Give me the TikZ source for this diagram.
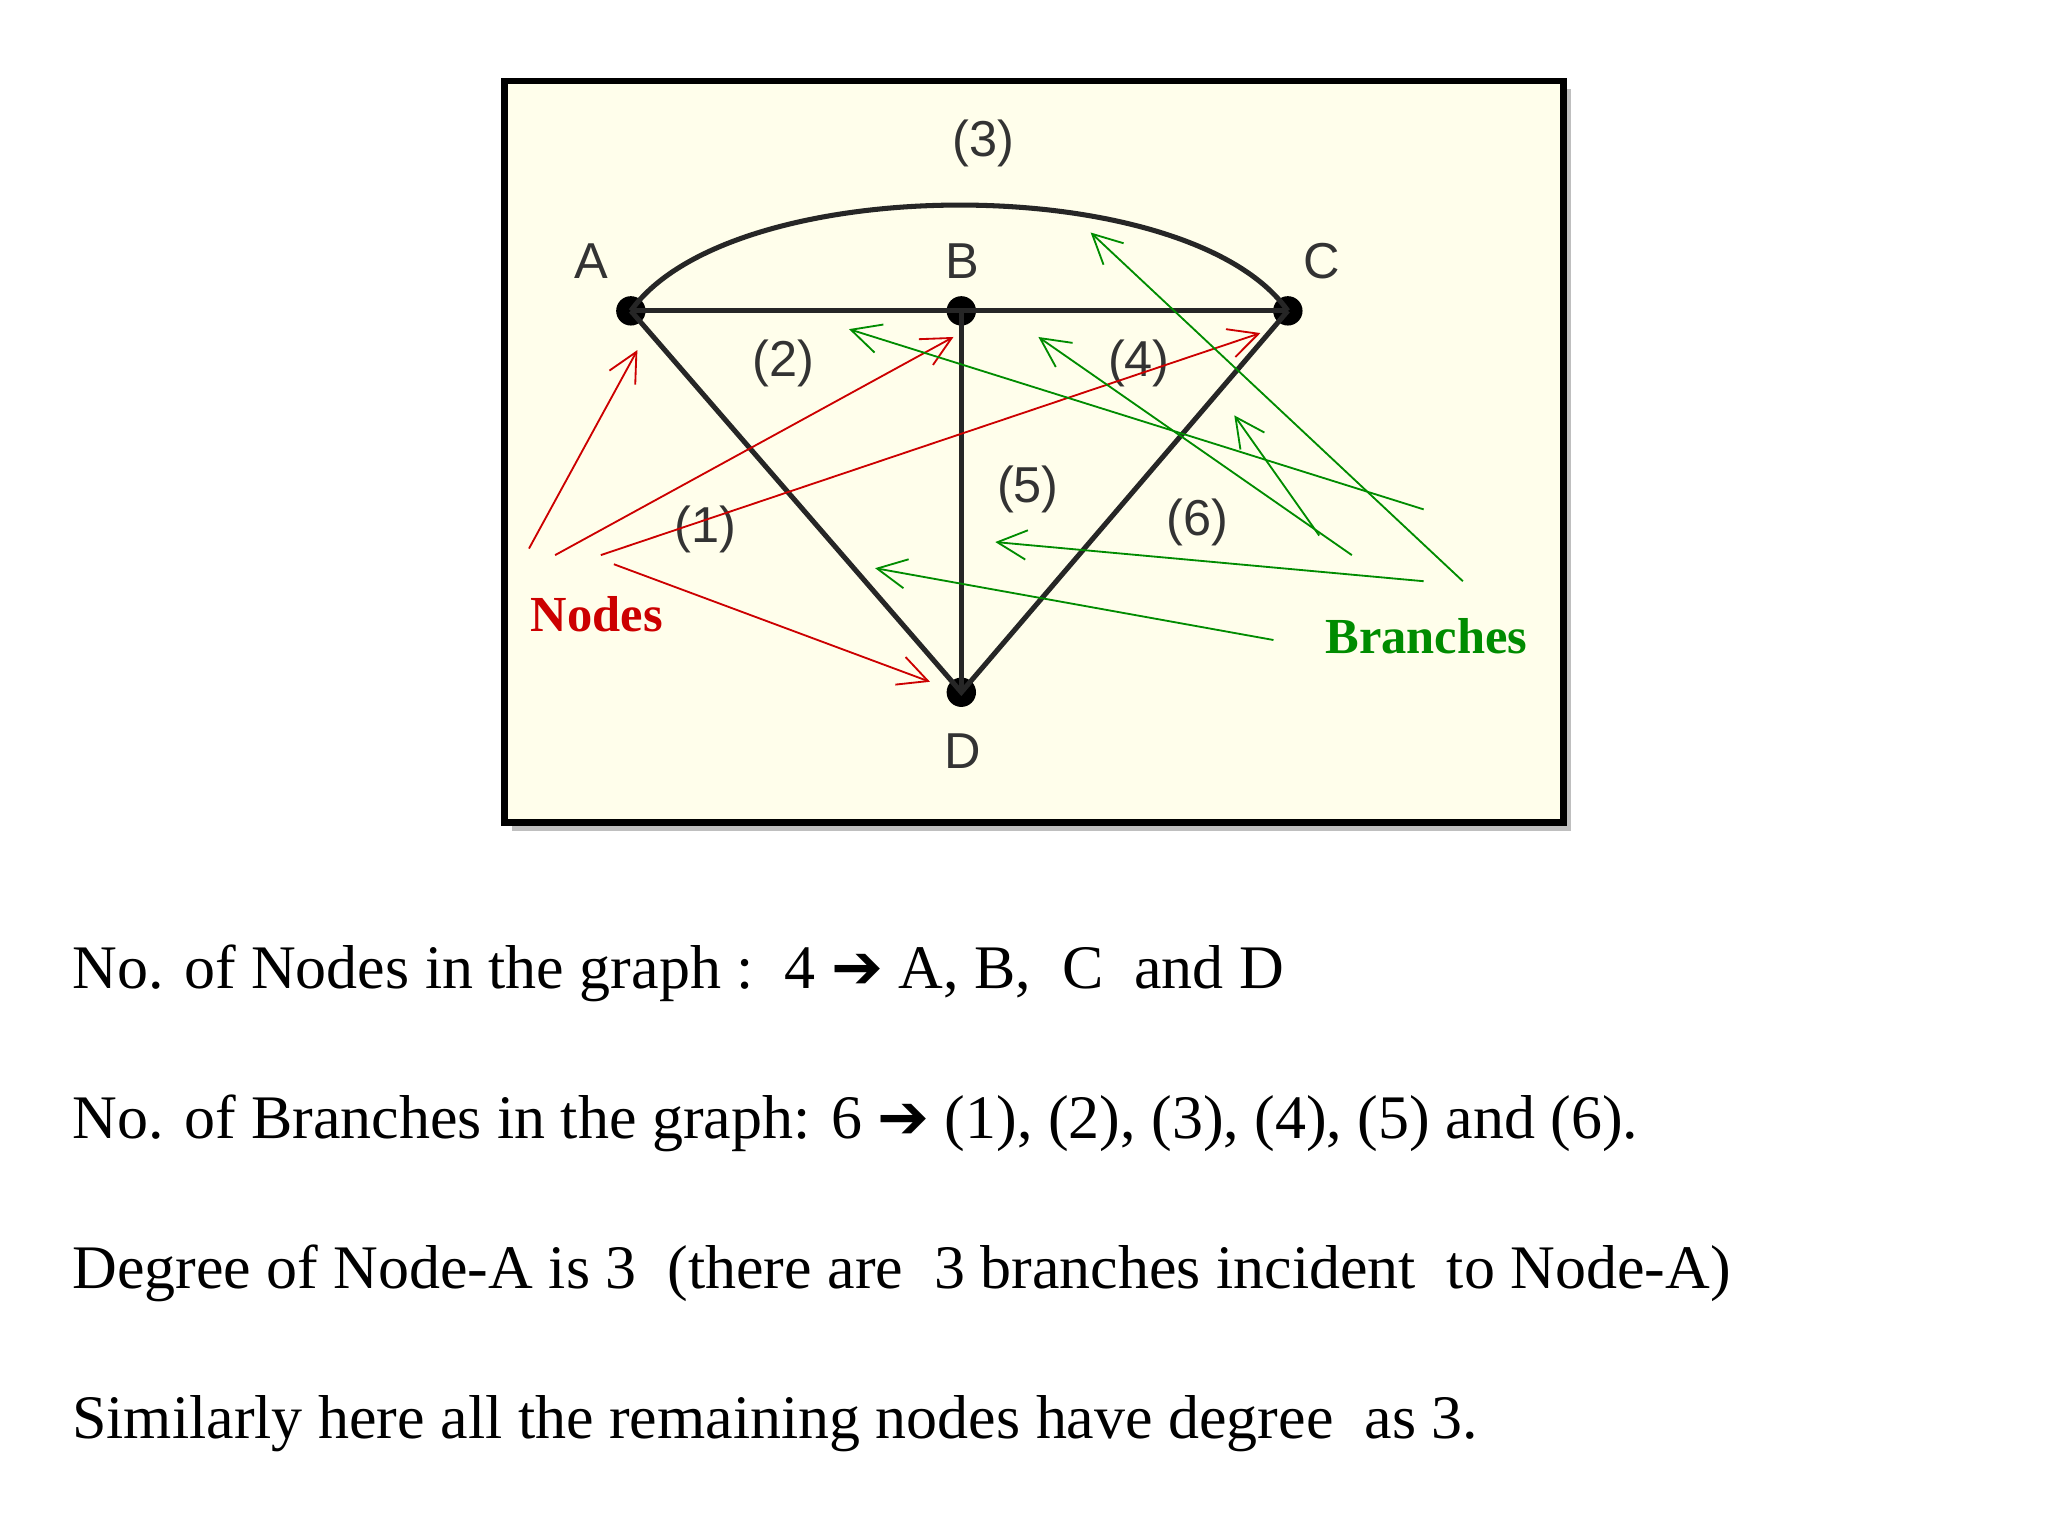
\documentclass[tikz,border=0pt]{standalone}
\usetikzlibrary{arrows.meta}
\usepackage{fontspec}
\setmainfont{Liberation Serif}
\newfontfamily\dv{DejaVu Sans}
\newfontfamily\lsans{Liberation Sans}
\begin{document}
\begin{tikzpicture}[x=0.02cm,y=-0.02cm,
  dot/.style={circle,fill=black,inner sep=0pt,minimum size=0.45cm},
  lab/.style={font=\lsans\fontsize{22}{24}\selectfont,text=black!80},
  edge/.style={line width=2.2pt,black!85},
  redarr/.style={red!80!black,line width=0.8pt,-{Straight Barb[length=0.45cm,width=0.45cm]}},
  grnarr/.style={green!55!black,line width=0.8pt,-{Straight Barb[length=0.45cm,width=0.45cm]}},
  txt/.style={anchor=west,font=\fontsize{27}{32}\selectfont,inner sep=0pt}]
\useasboundingbox (0,0) rectangle (1568,1176);
\fill[white] (0,0) rectangle (1568,1176);
\fill[gray!50] (392,68) rectangle (1203,636);
\fill[yellow!8!white] (386,62) rectangle (1197,630);
\draw[line width=3pt] (386,62) rectangle (1197,630);
\node[dot] (A) at (483,238) {};
\node[dot] (B) at (736,238) {};
\node[dot] (C) at (986,238) {};
\node[dot] (D) at (736,530) {};
\node[lab] (la) at (453,200) {A};
\node[lab] (lb) at (737,200) {B};
\node[lab] (lc) at (1012,200) {C};
\node[lab] (ld) at (737,575) {D};
\draw[edge] (A.center) .. controls (560,130) and (910,130) .. (C.center);
\draw[edge] (A.center) -- (B.center) -- (C.center);
\draw[edge] (A.center) -- (D.center) -- (C.center);
\draw[edge] (B.center) -- (D.center);
\node[lab] (e3) at (753,110) {(3)};
\node[lab] (e2) at (600,278) {(2)};
\node[lab] (e4) at (872,278) {(4)};
\node[lab] (e5) at (787,375) {(5)};
\node[lab] (e6) at (917,400) {(6)};
\node[lab] (e1) at (540,405) {(1)};
\node[font=\bfseries\fontsize{22}{24}\selectfont,text=red!80!black] (nodes) at (457,470) {Nodes};
\node[font=\bfseries\fontsize{22}{24}\selectfont,text=green!55!black] (br) at (1092,487) {Branches};
\coordinate (r1) at (405,420); \coordinate (r2) at (425,425); \coordinate (r3) at (460,425); \coordinate (r4) at (470,432);
\coordinate (ta) at (488,268); \coordinate (tb) at (730,258); \coordinate (tc) at (965,255); \coordinate (td) at (712,522);
\draw[redarr] (r1) -- (ta);
\draw[redarr] (r2) -- (tb);
\draw[redarr] (r3) -- (tc);
\draw[redarr] (r4) -- (td);
\coordinate (g1) at (1120,445); \coordinate (g2) at (1090,390); \coordinate (g3) at (1035,425);
\coordinate (g4) at (1010,410); \coordinate (g5) at (1090,445); \coordinate (g6) at (975,490);
\coordinate (h1) at (835,178); \coordinate (h2) at (650,252); \coordinate (h3) at (795,258);
\coordinate (h4) at (945,318); \coordinate (h5) at (762,415); \coordinate (h6) at (670,435);
\draw[grnarr] (g1) -- (h1);
\draw[grnarr] (g2) -- (h2);
\draw[grnarr] (g3) -- (h3);
\draw[grnarr] (g4) -- (h4);
\draw[grnarr] (g5) -- (h5);
\draw[grnarr] (g6) -- (h6);
\node[txt] (t1) at (55,745) {No. of Nodes in the graph :\ \ 4 {\dv ➔} A, B,\ \ C\ \ and D};
\node[txt] (t2) at (55,860) {No. of Branches in the graph: 6 {\dv ➔} (1), (2), (3), (4), (5) and (6).};
\node[txt] (t3) at (55,975) {Degree of Node-A is 3\ \ (there are\ \ 3 branches incident\ \ to Node-A)};
\node[txt] (t4) at (55,1090) {Similarly here all the remaining nodes have degree\ \ as 3.};
\end{tikzpicture}
\end{document}
